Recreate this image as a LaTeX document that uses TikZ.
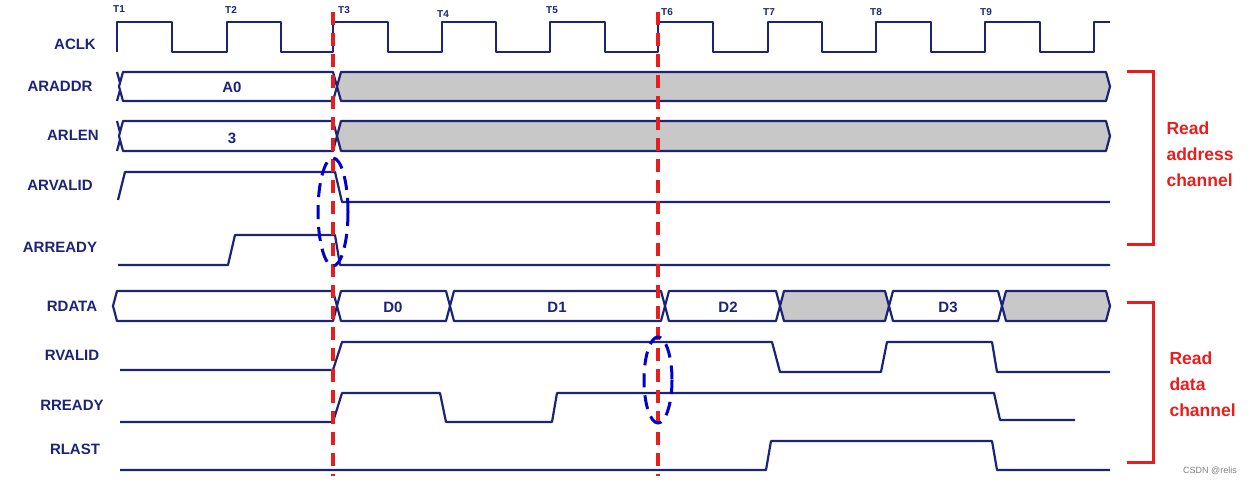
\documentclass[tikz,border=0pt]{standalone}
\usepackage{fontspec}
\setmainfont{Liberation Sans}
\definecolor{navy}{RGB}{28,36,120}
\definecolor{busgrey}{RGB}{200,200,200}
\definecolor{redc}{RGB}{230,30,30}
\newcommand\busseg[5]{\draw[wave,fill=#5] (#1,{(#3+#4)/2}) -- (#1+4,#3) -- (#2-4,#3) -- (#2,{(#3+#4)/2}) -- (#2-4,#4) -- (#1+4,#4) -- cycle;}
\tikzset{
 wave/.style={draw=navy,line width=2.2pt,line join=round},
 sig/.style={text=navy,font=\fontsize{15}{17}\selectfont\bfseries,anchor=center},
 val/.style={text=navy,font=\fontsize{15}{17}\selectfont\bfseries},
 tl/.style={text=navy,font=\fontsize{10}{11}\selectfont\bfseries},
 redline/.style={draw=redc,line width=3.2pt,dash pattern=on 13pt off 8pt},
 blueell/.style={draw=blue!80!black,line width=3pt,dash pattern=on 14pt off 8pt},
 brack/.style={draw=redc,line width=3pt},
 chtext/.style={text=redc,font=\fontsize{17.5}{26}\selectfont\bfseries,align=left}
}
\begin{document}
\begin{tikzpicture}[x=1pt,y=-1pt]
\useasboundingbox (0,0) rectangle (1257,486);
% labels
\node[sig] (l1) at (75,44) {ACLK};
\node[sig] (l2) at (60,86) {ARADDR};
\node[sig] (l3) at (73,135) {ARLEN};
\node[sig] (l4) at (60,185) {ARVALID};
\node[sig] (l5) at (60,247) {ARREADY};
\node[sig] (l6) at (72,306) {RDATA};
\node[sig] (l7) at (72,355) {RVALID};
\node[sig] (l8) at (72,405) {RREADY};
\node[sig] (l9) at (75,449) {RLAST};
% T labels
\node[tl] (t1) at (119,9) {T1};
\node[tl] (t2) at (231,10) {T2};
\node[tl] (t3) at (344,10) {T3};
\node[tl] (t4) at (443,14) {T4};
\node[tl] (t5) at (552,10) {T5};
\node[tl] (t6) at (667,12) {T6};
\node[tl] (t7) at (769,12) {T7};
\node[tl] (t8) at (876,12) {T8};
\node[tl] (t9) at (986,12) {T9};
% clock
\draw[wave] (117,52) -- (117,22) -- (172,22) -- (172,52) -- (227,52) -- (227,22) -- (281,22) -- (281,52) -- (333,52) -- (333,22) -- (388,22) -- (388,52) -- (442,52) -- (442,22) -- (496,22) -- (496,52) -- (550,52) -- (550,22) -- (605,22) -- (605,52) -- (658,52) -- (658,22) -- (713,22) -- (713,52) -- (768,52) -- (768,22) -- (822,22) -- (822,52) -- (876,52) -- (876,22) -- (931,22) -- (931,52) -- (985,52) -- (985,22) -- (1040,22) -- (1040,52) -- (1094,52) -- (1094,22) -- (1110,22);
% ARADDR
\draw[wave] (117,72) -- (121,86.5) -- (117,101);
\busseg{119}{337}{72}{101}{white}
\busseg{337}{1110}{72}{101}{busgrey}
\node[val] (a0) at (232,87) {A0};
% ARLEN
\draw[wave] (117,121) -- (121,136) -- (117,151);
\busseg{119}{337}{121}{151}{white}
\busseg{337}{1110}{121}{151}{busgrey}
\node[val] (a3) at (232,138) {3};
% ARVALID
\draw[wave] (118,200) -- (125,172) -- (335,172) -- (342,202) -- (1110,202);
% ARREADY
\draw[wave] (118,265) -- (228,265) -- (235,235) -- (335,235) -- (340,265) -- (1110,265);
% RDATA
\busseg{113}{337}{291}{321}{white}
\busseg{337}{450}{291}{321}{white}
\busseg{450}{665}{291}{321}{white}
\busseg{665}{780}{291}{321}{white}
\busseg{780}{889}{291}{321}{busgrey}
\busseg{889}{1002}{291}{321}{white}
\busseg{1002}{1110}{291}{321}{busgrey}
\node[val] (d0) at (393,307) {D0};
\node[val] (d1) at (557,307) {D1};
\node[val] (d2) at (728,307) {D2};
\node[val] (d3) at (948,307) {D3};
% RVALID
\draw[wave] (120,370) -- (333,370) -- (342,342) -- (772,342) -- (780,372) -- (881,372) -- (887,342) -- (992,342) -- (997,372) -- (1110,372);
% RREADY
\draw[wave] (120,422) -- (333,422) -- (342,393) -- (440,393) -- (446,422) -- (552,422) -- (557,393) -- (888,393) -- (994,393) -- (1000,420) -- (1075,420);
% RLAST
\draw[wave] (120,470) -- (766,470) -- (771,441) -- (992,441) -- (997,470) -- (1110,470);
% red dashed lines
\draw[redline] (333,12) -- (333,476);
\draw[redline] (658,12) -- (658,476);
% blue ellipses
\draw[blueell] (333,212) ellipse [x radius=15, y radius=54];
\draw[blueell] (658,380) ellipse [x radius=14, y radius=43];
% brackets
\draw[brack] (1127,72) -- (1153,72) -- (1153,245) -- (1127,245);
\draw[brack] (1127,302) -- (1153,302) -- (1153,462) -- (1127,462);
\node[chtext,anchor=west] (c1) at (1163,154) {Read\\address\\channel};
\node[chtext,anchor=west] (c2) at (1166,384) {Read\\data\\channel};
\node[text=gray,font=\fontsize{9}{10}\selectfont] (wm) at (1210,471) {CSDN @relis};
\end{tikzpicture}
\end{document}
